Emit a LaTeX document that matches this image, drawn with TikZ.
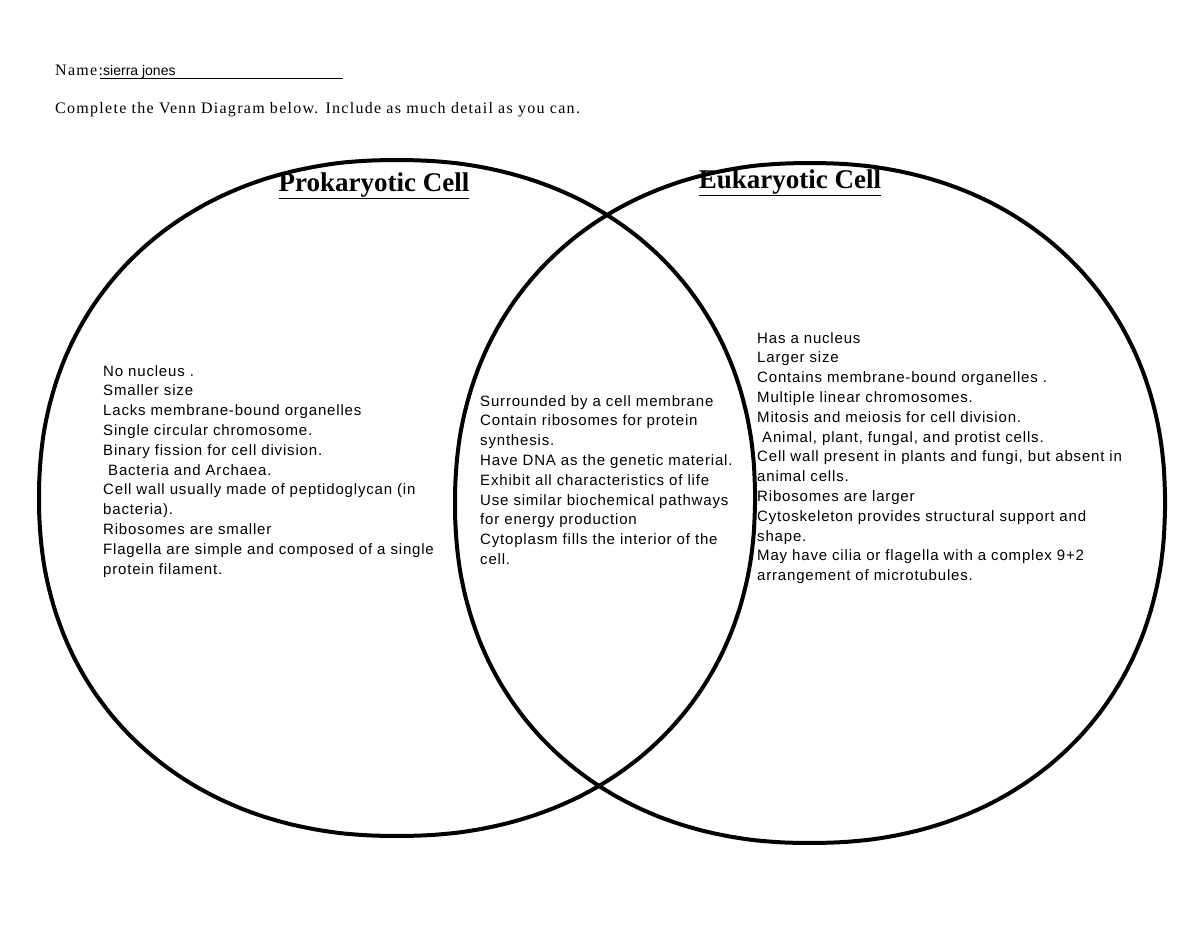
\documentclass[tikz,border=0pt]{standalone}
\usepackage{fontspec}
\setmainfont{Liberation Serif}
\newfontfamily\sansf[LetterSpace=5.5]{Liberation Sans}
\newfontfamily\sansn{Liberation Sans}
\newfontfamily\serifw[LetterSpace=8]{Liberation Serif}
\begin{document}
\begin{tikzpicture}[x=1pt,y=-1pt,
  body/.style={anchor=north west,align=left,inner sep=0pt,font=\sansf\fontsize{15}{19.8}\selectfont},
  ttl/.style={font=\bfseries\fontsize{27}{30}\selectfont,inner sep=0pt},
  hdr/.style={anchor=base west,inner sep=0pt,font=\serifw\fontsize{16}{18}\selectfont},
  ring/.style={line width=4pt,draw=black}]
\useasboundingbox (0,0) rectangle (1200,927);
\draw[ring] plot[smooth cycle,domain=1:359,samples=90,variable=\t]
  ({397+358*sign(cos(\t))*pow(abs(cos(\t)),0.93)},{498-338*sign(sin(\t))*pow(abs(sin(\t)),0.93)});
\draw[ring] plot[smooth cycle,domain=1:359,samples=90,variable=\t]
  ({810+355*sign(cos(\t))*pow(abs(cos(\t)),0.93)},{503-340*sign(sin(\t))*pow(abs(sin(\t)),0.93)});
\node[hdr] (name) at (55,75) {Name:};
\node[anchor=base west,inner sep=0pt,font=\sansn\fontsize{14}{16}\selectfont] (sj) at (103,75) {sierra jones};
\coordinate (u1) at (100,78);
\coordinate (u2) at (343,78);
\draw[line width=0.6pt] (u1) -- (u2);
\node[hdr] (instr) at (55,113) {Complete the Venn Diagram below. Include as much detail as you can.};
\node[ttl] (tl) at (374,186) {\underline{Prokaryotic Cell}};
\node[ttl] (tr) at (790,183) {\underline{Eukaryotic Cell}};
\node[body] (lt) at (103,365) {No nucleus .\\Smaller size\\Lacks membrane-bound organelles\\Single circular chromosome.\\Binary fission for cell division.\\\ Bacteria and Archaea.\\Cell wall usually made of peptidoglycan (in\\bacteria).\\Ribosomes are smaller\\Flagella are simple and composed of a single\\protein filament.};
\node[body] (mt) at (480,395) {Surrounded by a cell membrane\\Contain ribosomes for protein\\synthesis.\\Have DNA as the genetic material.\\Exhibit all characteristics of life\\Use similar biochemical pathways\\for energy production\\Cytoplasm fills the interior of the\\cell.};
\node[body] (rt) at (757,332) {Has a nucleus\\Larger size\\Contains membrane-bound organelles .\\Multiple linear chromosomes.\\Mitosis and meiosis for cell division.\\\ Animal, plant, fungal, and protist cells.\\Cell wall present in plants and fungi, but absent in\\animal cells.\\Ribosomes are larger\\Cytoskeleton provides structural support and\\shape.\\May have cilia or flagella with a complex 9+2\\arrangement of microtubules.};
\end{tikzpicture}
\end{document}
